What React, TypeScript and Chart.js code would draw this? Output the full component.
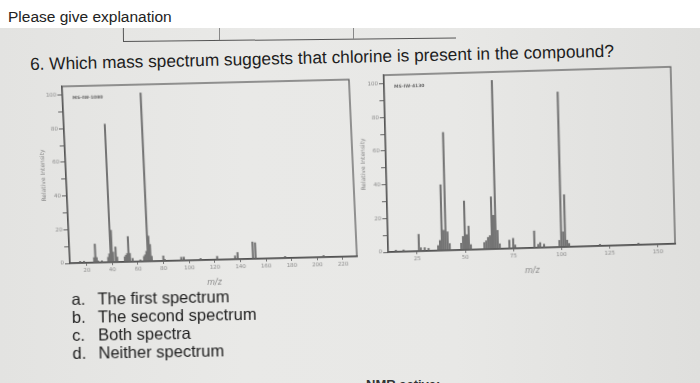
import React, { useEffect, useRef } from 'react';
import { Chart, registerables } from 'chart.js';
Chart.register(...registerables);

// ---- data ----
const spectrum1MZ = [15, 18, 26, 27, 28, 29, 32, 37, 38, 39, 40, 41, 43, 44, 50, 51, 52, 53, 54, 56, 62, 65, 66, 67, 68, 69, 70, 71, 80, 81, 94, 96, 109, 122, 136, 138, 150, 152, 175, 205];
const spectrum1Intensity = [1, 1, 3, 11, 3, 1, 1, 3, 5, 82, 19, 6, 9, 3, 3, 4, 5, 15, 5, 2, 1, 3, 4, 6, 100, 15, 10, 3, 3, 1, 2, 2, 1, 2, 2, 4, 10, 9.5, 1, 1];

const spectrum2MZ = [14, 18, 26, 27, 29, 31, 36, 37, 38, 39, 40, 41, 42, 48, 49, 50, 51, 52, 53, 60, 61, 62, 63, 64, 65, 66, 67, 68, 73, 75, 76, 86, 88, 89, 91, 99, 100, 101, 102, 103, 104, 120, 140];
const spectrum2Intensity = [1, 1, 10, 2, 2, 1.5, 3, 6, 39, 12, 70, 11, 4, 4, 8, 29, 9, 14, 3, 4, 5, 7, 8, 31, 20, 100, 11, 3, 5, 6, 2, 10, 2, 3, 2, 4, 92, 9, 31, 4, 2, 1, 1];

const x1TickValues = [20, 40, 60, 80, 100, 120, 140, 160, 180, 200, 220];
const x2TickValues = [25, 50, 75, 100, 125, 150];
const yTickValues = [0, 10, 20, 30, 40, 50, 60, 70, 80, 90, 100];
const yTickLabels = [0, 20, 40, 60, 80, 100];

const questionText = '6. Which mass spectrum suggests that chlorine is present in the compound?';
const answers = [
  ['a.', 'The first spectrum'],
  ['b.', 'The second spectrum'],
  ['c.', 'Both spectra'],
  ['d.', 'Neither spectrum'],
];

// ---- layout constants ----
const Y_W = 26;
const X_H = 28;
const PAD_T = 6;
const PAD_R = 6;
const PLOT_W = 287;
const PLOT_H = 177;
const CANVAS_W = Y_W + PLOT_W + PAD_R;
const CANVAS_H = PAD_T + PLOT_H + X_H;
const ORIGIN_X = Y_W + PLOT_W / 2;
const ORIGIN_Y = PAD_T + PLOT_H / 2;

const BAR = '#747474';
const FRAME = '#555555';
const TXT = '#8a8a8a';
const FONT = "'DejaVu Sans', sans-serif";

const framePlugin = {
  id: 'frame',
  afterDraw(chart: any, _args: any, opts: any) {
    const { ctx, chartArea } = chart;
    const { left, top, right, bottom } = chartArea;
    ctx.save();
    ctx.strokeStyle = FRAME;
    ctx.lineWidth = 1.2;
    ctx.strokeRect(left, top, right - left, bottom - top);
    ctx.fillStyle = '#6a6a6a';
    ctx.font = `bold 4.5px ${FONT}`;
    ctx.textBaseline = 'middle';
    ctx.fillText(opts.code || '', left + 10, top + 12);
    ctx.restore();
  },
};

function makeConfig(mz: number[], inten: number[], xMin: number, xMax: number, xTicks: number[], code: string): any {
  return {
    type: 'bar',
    data: {
      datasets: [
        {
          data: mz.map((m, i) => ({ x: m, y: inten[i] })),
          backgroundColor: BAR,
          borderWidth: 0,
          barThickness: 1.4,
        },
      ],
    },
    options: {
      animation: false,
      responsive: false,
      maintainAspectRatio: false,
      devicePixelRatio: 1,
      layout: { padding: { top: PAD_T, right: PAD_R, left: 0, bottom: 0 } },
      plugins: { legend: { display: false }, tooltip: { enabled: false }, frame: { code } },
      scales: {
        x: {
          type: 'linear',
          min: xMin,
          max: xMax,
          offset: false,
          afterBuildTicks: (s: any) => {
            s.ticks = xTicks.map((v) => ({ value: v }));
          },
          afterFit: (s: any) => {
            s.height = X_H;
          },
          ticks: { font: { size: 5.5, family: FONT }, color: TXT, padding: 1, maxRotation: 0, autoSkip: false },
          grid: { drawOnChartArea: false, offset: false, tickLength: 3, color: '#777' },
          border: { color: '#4a4a4a', width: 1.6 },
          title: { display: true, text: 'm/z', font: { size: 8, style: 'italic', family: FONT }, color: TXT, padding: 0 },
        },
        y: {
          min: 0,
          max: 105,
          afterBuildTicks: (s: any) => {
            s.ticks = yTickValues.map((v) => ({ value: v }));
          },
          afterFit: (s: any) => {
            s.width = Y_W;
          },
          ticks: {
            font: { size: 5.5, family: FONT },
            color: TXT,
            padding: 1,
            autoSkip: false,
            callback: (v: any) => (yTickLabels.includes(v) ? String(v) : ''),
          },
          grid: { drawOnChartArea: false, tickLength: 5, color: '#666' },
          border: { color: FRAME, width: 1.2 },
          title: { display: true, text: 'Relative Intensity', font: { size: 6, family: FONT }, color: TXT, padding: 0 },
        },
      },
    },
    plugins: [framePlugin],
  };
}

function Spectrum(props: { mz: number[]; inten: number[]; xMin: number; xMax: number; xTicks: number[]; code: string; cx: number; cy: number; lean: number; slope: number }) {
  const ref = useRef<HTMLCanvasElement | null>(null);
  useEffect(() => {
    if (!ref.current) return;
    const chart = new Chart(ref.current, makeConfig(props.mz, props.inten, props.xMin, props.xMax, props.xTicks, props.code));
    return () => chart.destroy();
  }, []);
  return (
    <div
      style={{
        position: 'absolute',
        left: props.cx - ORIGIN_X,
        top: props.cy - ORIGIN_Y,
        width: CANVAS_W,
        height: CANVAS_H,
        transform: `matrix(1, ${-props.slope}, ${props.lean}, 1, 0, 0)`,
        transformOrigin: `${ORIGIN_X}px ${ORIGIN_Y}px`,
      }}
    >
      <canvas ref={ref} width={CANVAS_W} height={CANVAS_H} style={{ display: 'block', width: CANVAS_W, height: CANVAS_H }} />
    </div>
  );
}

export default function App() {
  useEffect(() => {
    document.body.style.margin = '0';
  }, []);
  const sans = "'Liberation Sans', Arial, sans-serif";
  return (
    <div style={{ position: 'fixed', left: 0, top: 0, width: 700, height: 383, overflow: 'hidden', background: '#ffffff', fontFamily: sans }}>
      <div style={{ position: 'absolute', left: 8, top: 8, fontSize: 15.5, lineHeight: '17px', color: '#222', whiteSpace: 'nowrap' }}>Please give explanation</div>
      <div
        style={{
          position: 'absolute',
          left: 0,
          top: 28,
          width: 700,
          height: 355,
          background: 'linear-gradient(90deg, #e3e3e1 0%, #e9e9e7 35%, #e8e8e6 65%, #dfdfdd 100%)',
        }}
      />
      <div style={{ position: 'absolute', left: 123, top: 28, width: 332, height: 13, borderLeft: '1.5px solid #555', borderBottom: '1.5px solid #555', transform: 'rotate(-0.6deg)', transformOrigin: 'left bottom' }} />
      <div style={{ position: 'absolute', left: 219, top: 28, width: 0, height: 12, borderLeft: '1px solid #888' }} />
      <div style={{ position: 'absolute', left: 353, top: 28, width: 0, height: 11, borderLeft: '1px solid #888' }} />
      <div
        style={{
          position: 'absolute',
          left: 30,
          top: 54,
          fontSize: 17.3,
          lineHeight: '20px',
          color: '#1e1e1e',
          whiteSpace: 'nowrap',
          transform: 'rotate(-1.3deg)',
          transformOrigin: 'left center',
        }}
      >
        {questionText}
      </div>
      <Spectrum mz={spectrum1MZ} inten={spectrum1Intensity} xMin={7} xMax={231} xTicks={x1TickValues} code="MS-IW-1080" cx={209} cy={171} lean={0.045} slope={0.024} />
      <Spectrum mz={spectrum2MZ} inten={spectrum2Intensity} xMin={10} xMax={159} xTicks={x2TickValues} code="MS-IW-4130" cx={529.5} cy={159} lean={0.025} slope={0.029} />
      <div style={{ position: 'absolute', left: 72, top: 290, transform: 'rotate(-1deg)', transformOrigin: 'left center' }}>
        {answers.map(([k, t]) => (
          <div key={k} style={{ display: 'flex', fontSize: 16.5, lineHeight: '18px', color: '#1e1e1e', whiteSpace: 'nowrap' }}>
            <span style={{ width: 26, display: 'inline-block' }}>{k}</span>
            <span>{t}</span>
          </div>
        ))}
      </div>
      <div style={{ position: 'absolute', left: 366, top: 378, fontSize: 13, lineHeight: '13px', fontWeight: 'bold', color: '#333', whiteSpace: 'nowrap' }}>NMR active:</div>
    </div>
  );
}
